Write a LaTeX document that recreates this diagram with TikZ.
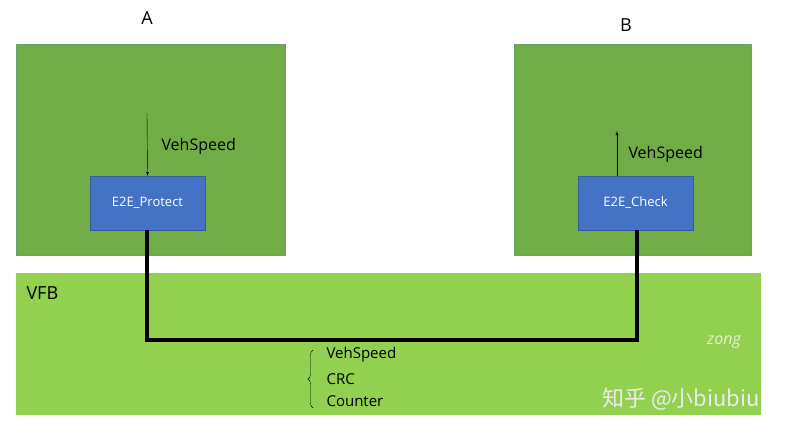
\documentclass[tikz,border=0pt]{standalone}
\usepackage{fontspec}
\setmainfont{Open Sans}
\newfontfamily\cjk{Noto Sans CJK SC}
\usetikzlibrary{decorations.pathreplacing}
\begin{document}
\begin{tikzpicture}[x=1pt,y=-1pt,
  comp/.style={draw=green!40!black!60,fill=gA,line width=0.6pt},
  swc/.style={fill=bl,draw=bl!80!black,text=white,font=\fontsize{13}{15}\selectfont,minimum width=115pt,minimum height=54pt,inner sep=0pt},
  lbl/.style={font=\fontsize{16}{19}\selectfont,anchor=west},
  bus/.style={line width=4.5pt,line join=miter}]
\definecolor{gA}{HTML}{70AD47}
\definecolor{gV}{HTML}{92D050}
\definecolor{bl}{HTML}{4472C4}
\useasboundingbox (0,0) rectangle (787,432);
\fill[white] (0,0) rectangle (787,432);
\node[comp,minimum width=269pt,minimum height=211pt,anchor=north west] (A) at (16,44) {};
\node[comp,minimum width=237pt,minimum height=211pt,anchor=north west] (B) at (514,44) {};
\node[fill=gV,minimum width=745pt,minimum height=142pt,anchor=north west,inner sep=0pt] (V) at (16,273) {};
\node[font=\fontsize{18}{21}\selectfont] (tA) at (147,18) {A};
\node[font=\fontsize{18}{21}\selectfont] (tB) at (626,25) {B};
\node[font=\fontsize{18}{21}\selectfont,anchor=west] (tV) at (23,293) {VFB};
\node[swc] (P) at (147.5,203) {E2E\_Protect};
\node[swc] (C) at (635.5,203) {E2E\_Check};
\coordinate (a1) at (147,113);
\draw[-latex] (a1) -- (P.north);
\node[lbl] at (158,146) {VehSpeed};
\coordinate (b1) at (617,131);
\draw[-latex] (617,176) -- (b1);
\node[lbl] at (625,154) {VehSpeed};
\coordinate (m1) at (147,340);
\coordinate (m2) at (637,340);
\draw[bus] (P.south -| m1) -- (m1) -- (m2) -- (C.south -| m2);
\draw[decorate,decoration={brace,amplitude=5pt}] (313,408) -- (313,350);
\node[lbl,font=\fontsize{15}{18}\selectfont] at (323,355) {VehSpeed};
\node[lbl,font=\fontsize{15}{18}\selectfont] at (323,379) {CRC};
\node[lbl,font=\fontsize{15}{18}\selectfont] at (323,401) {Counter};
\node[font=\itshape\fontsize{16}{19}\selectfont,text=white!75!gV] at (724,342) {zong};
\node[font=\cjk\fontsize{22}{26}\selectfont,text=white!92!black] at (681,399) {知乎 @小biubiu};
\end{tikzpicture}
\end{document}
